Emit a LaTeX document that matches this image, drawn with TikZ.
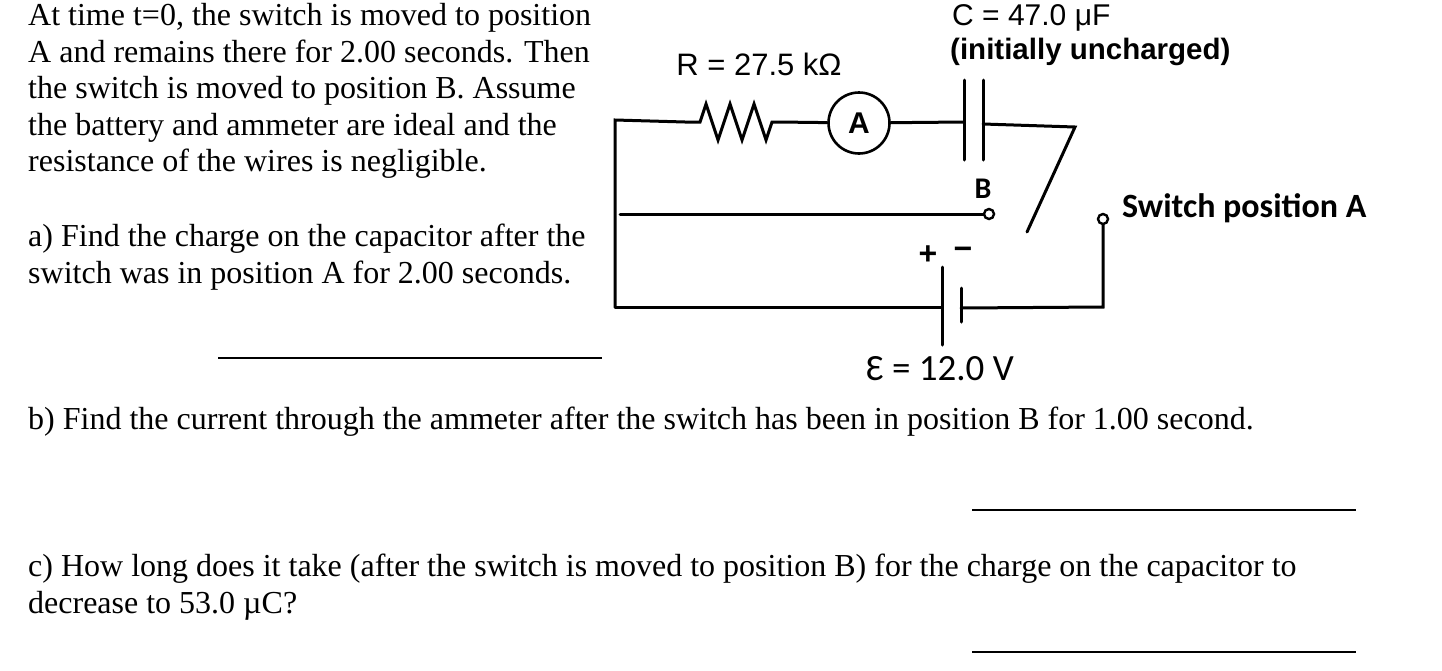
\documentclass[tikz,border=0pt]{standalone}
\usepackage{fontspec}
\setmainfont{Liberation Serif}
\newfontfamily\arial{Liberation Sans}
\newfontfamily\calib{Carlito}
\begin{document}
\begin{tikzpicture}[x=1pt,y=-1pt,
  wire/.style={line width=3pt,line cap=round},
  qtext/.style={anchor=west,font=\fontsize{32}{36.6}\selectfont,align=left,inner sep=0},
  lbl/.style={inner sep=0,font=\arial\fontsize{30}{32}\selectfont},
  clbl/.style={inner sep=0,font=\calib\bfseries\fontsize{34}{36}\selectfont},
  term/.style={circle,draw,line width=2.4pt,minimum size=10pt,inner sep=0,fill=white},
  ans/.style={line width=1.2pt}]
\useasboundingbox (0,0) rectangle (1442,670);
% text
\node[qtext,anchor=north west] (t1) at (28,3) {At time t=0, the switch is moved to position\\A and remains there for 2.00 seconds. Then\\the switch is moved to position B. Assume\\the battery and ammeter are ideal and the\\resistance of the wires is negligible.};
\node[qtext,anchor=north west] (ta) at (28,224) {a) Find the charge on the capacitor after the\\switch was in position A for 2.00 seconds.};
\node[qtext,anchor=north west] (tb) at (28,407) {b) Find the current through the ammeter after the switch has been in position B for 1.00 second.};
\node[qtext,anchor=north west] (tc) at (28,554) {c) How long does it take (after the switch is moved to position B) for the charge on the capacitor to\\decrease to 53.0 µC?};
\coordinate (l1a) at (218,358); \coordinate (l1b) at (602,358);
\coordinate (l2a) at (972,510); \coordinate (l2b) at (1356,510);
\coordinate (l3a) at (972,652); \coordinate (l3b) at (1356,652);
\draw[ans] (l1a)--(l1b); \draw[ans] (l2a)--(l2b); \draw[ans] (l3a)--(l3b);
% labels
\node[lbl,font=\arial\fontsize{31}{32}\selectfont] (rl) at (759,64) {R = 27.5 kΩ};
\node[lbl,anchor=west] (cl) at (952,18) {C = 47.0 μF};
\node[lbl,anchor=west,font=\arial\bfseries\fontsize{29.5}{32}\selectfont] (cl2) at (950,52) {(initially uncharged)};
\node[clbl,font=\calib\bfseries\fontsize{30}{32}\selectfont] (bl) at (983,189) {B};
\node[clbl,anchor=west] (sl) at (1122,208) {Switch position A};
\node[clbl,font=\calib\fontsize{37}{40}\selectfont] (el) at (940,369) {Ɛ = 12.0 V};
\node[lbl,font=\arial\bfseries\fontsize{32}{32}\selectfont] (plus) at (928,255) {+};
\node[lbl,font=\arial\bfseries\fontsize{32}{32}\selectfont] (minus) at (963,253) {−};
% circuit
\coordinate (tl) at (615,120);
\coordinate (bot) at (615,307);
\coordinate (mid) at (620,214);
\coordinate (r0) at (685,122);
\coordinate (r1) at (700,122);
\coordinate (r2) at (778,122);
\node[circle,draw,line width=2.6pt,minimum size=61pt,inner sep=0,font=\arial\bfseries\fontsize{30}{32}\selectfont] (am) at (859,123) {A};
\coordinate (c1t) at (964,80); \coordinate (c1b) at (964,160);
\coordinate (c2t) at (983,80); \coordinate (c2b) at (983,160);
\coordinate (sw0) at (1075,127);
\coordinate (sw1) at (1027,232);
\coordinate (tBc) at (989,214);
\coordinate (tAc) at (1103,219);
\coordinate (tAd) at (1103,307);
\coordinate (b1t) at (942,267); \coordinate (b1b) at (942,345);
\coordinate (b2t) at (961,288); \coordinate (b2b) at (961,322);
\draw[wire] (bot) -- (tl) -- (r0) -- (r1)
  -- ++(6,-18) -- ++(12,36) -- ++(12,-36) -- ++(12,36) -- ++(12,-36) -- ++(12,36) -- ++(6,-18) -- (r2) -- (am);
\draw[wire] (am) -- (964,122);
\draw[wire] (c1t) -- (c1b); \draw[wire] (c2t) -- (c2b);
\draw[wire] (983,124) -- (sw0) -- (sw1);
\draw[wire] (mid) -- (tBc);
\draw[wire] (tAc) -- (tAd) -- (961,308);
\draw[wire] (bot) -- (942,307);
\draw[wire] (b1t) -- (b1b); \draw[wire] (b2t) -- (b2b);
\node[term] (tB) at (tBc) {};
\node[term] (tA) at (tAc) {};
\end{tikzpicture}
\end{document}
